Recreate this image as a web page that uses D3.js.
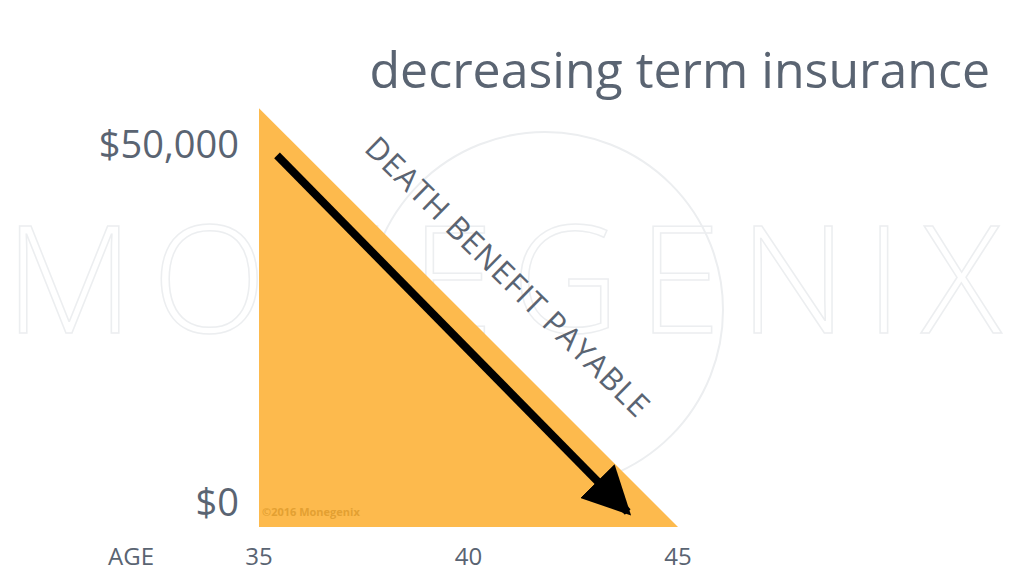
<!DOCTYPE html>
<html><head><meta charset="utf-8">
<script src="https://cdn.jsdelivr.net/npm/d3@7"></script>
<style>body{margin:0;background:#fff}</style>
</head><body><div id="chart"></div>
<script>
// data
const ages = [35, 45];
const benefit = [58500, 0];          // death benefit at start / end of term
const ageTicks = [35, 40, 45];
const valueTicks = [0, 50000];
const arrowFrom = [35.43, 51900];
const arrowTo = [43.8, 2100];

const width = 1024, height = 576;
const svg = d3.select("#chart").append("svg").attr("width", width).attr("height", height);
const x = d3.scaleLinear().domain([35, 45]).range([259, 678]);
const y = d3.scaleLinear().domain([0, 50000]).range([527, 169]);
const grey = "#5a6472";

// watermark
svg.append("circle").attr("cx", 545).attr("cy", 310).attr("r", 178)
    .attr("fill", "none").attr("stroke", "#eceef0").attr("stroke-width", 2);
svg.append("text").attr("x", 512).attr("y", 333).attr("text-anchor", "middle")
    .style("font", "200 150px 'Open Sans', sans-serif").attr("letter-spacing", 18)
    .attr("fill", "none").attr("stroke", "#eceef0").attr("stroke-width", 1.5).text("MONEGENIX");

// triangle
const area = d3.area().x((d, i) => x(ages[i])).y0(y(0)).y1(d => y(d));
svg.append("path").datum(benefit).attr("d", area).attr("fill", "#fdb847").attr("fill-opacity", 0.97);

svg.append("text").attr("x", x(35) + 3).attr("y", 516)
    .style("font", "bold 11px 'Open Sans', sans-serif").attr("fill", "#e3a032").text("©2016 Monegenix");

// arrow
svg.append("defs").append("marker").attr("id", "ah").attr("viewBox", "0 0 10 10")
    .attr("refX", 9).attr("refY", 5).attr("markerWidth", 6).attr("markerHeight", 6)
    .attr("markerUnits", "strokeWidth").attr("orient", "auto")
    .append("path").attr("d", "M0,0L10,5L0,10z").attr("fill", "#000");
svg.append("line").attr("x1", x(arrowFrom[0])).attr("y1", y(arrowFrom[1]))
    .attr("x2", x(arrowTo[0])).attr("y2", y(arrowTo[1]))
    .attr("stroke", "#000").attr("stroke-width", 8).attr("marker-end", "url(#ah)");

// rotated label
svg.append("text").attr("transform", "translate(363,150) rotate(44.5)")
    .style("font", "31px 'Open Sans', sans-serif").attr("letter-spacing", 1).attr("fill", grey)
    .text("DEATH BENEFIT PAYABLE");

// title
svg.append("text").attr("x", 990).attr("y", 88).attr("text-anchor", "end")
    .style("font", "50px 'Open Sans', sans-serif").attr("fill", grey).text("decreasing term insurance");

// y labels (sit just above their value line)
const fmt = d3.format("$,");
svg.selectAll(".yl").data(valueTicks).join("text")
    .attr("x", 239).attr("y", d => y(d) - 24).attr("dy", "0.35em").attr("text-anchor", "end")
    .style("font", "38px 'Open Sans', sans-serif").attr("fill", grey).text(d => fmt(d));

// x labels
svg.selectAll(".xl").data(ageTicks).join("text")
    .attr("x", d => x(d)).attr("y", 565).attr("text-anchor", "middle")
    .style("font", "24px 'Open Sans', sans-serif").attr("fill", grey).text(d => d);
svg.append("text").attr("x", 108).attr("y", 565)
    .style("font", "24px 'Open Sans', sans-serif").attr("fill", grey).text("AGE");
</script></body></html>
